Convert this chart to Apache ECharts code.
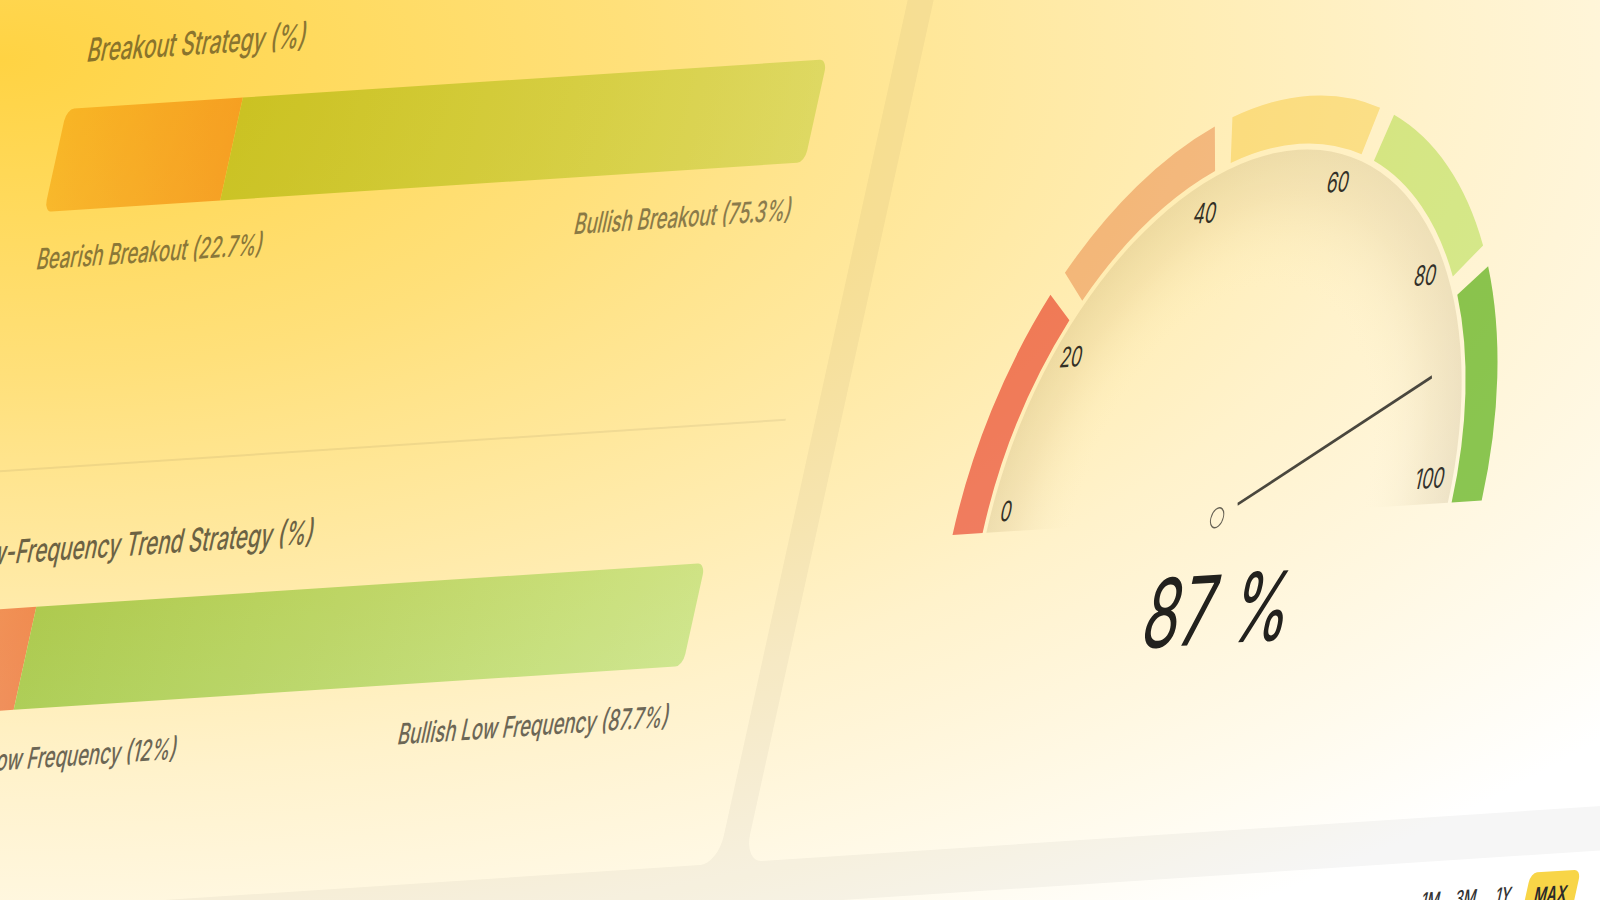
<!DOCTYPE html>
<html>
<head>
<meta charset="utf-8">
<title>Strategy Sentiment</title>
<script src="https://cdn.jsdelivr.net/npm/echarts@6/dist/echarts.min.js"></script>
<style>
  html, body { margin:0; padding:0; width:1600px; height:900px; overflow:hidden; background:#ffffff; }
  #stage {
    position:absolute; left:0; top:0; width:3000px; height:1080px;
    background:#F6F6F6;
    transform-origin:0 0;
    transform:matrix(0.627,-0.041,-0.22,1,-26.8,-24.8);
    font-family:Inter, "Noto Sans", sans-serif;
  }
  .card { position:absolute; background:#ffffff; border-radius:28px; }
  #divider { position:absolute; left:-100px; top:504px; width:1573px; height:2px; background:#F0F0F0; }
  #chart { position:absolute; left:0; top:0; width:3000px; height:1080px; }
  .btn { position:absolute; top:1022px; font-size:22px; font-weight:500; color:#333; }
  .chip { position:absolute; left:2840px; top:1014px; width:80px; height:46px; border-radius:10px;
          background:#F8D547; color:#2a2a2a; font-size:22px; font-weight:600; text-align:center; line-height:46px; }
  #overlay {
    position:fixed; left:0; top:0; width:1600px; height:900px; pointer-events:none; z-index:10;
    mix-blend-mode:multiply;
    background:radial-gradient(ellipse 2100px 1050px at 0px 60px,
      #FFD343 0%, #FFDA5E 15%, #FFE07A 30%, #FFE48C 38%, #FFECB0 55%,
      #FFF2CB 68%, #FFF5D8 76%, #FFFBEE 90%, #FFFFFF 100%);
  }
</style>
</head>
<body>
<div id="stage">
  <div class="card" style="left:-100px; top:-60px; width:1621px; height:1011px;"></div>
  <div class="card" style="left:1563px; top:-60px; width:1500px; height:1011px;"></div>
  <div class="card" style="left:1563px; top:996px; width:1500px; height:200px;"></div>
  <div id="divider"></div>
  <div id="chart"></div>
  <div id="buttons"></div>
</div>
<div id="overlay"></div>
<script>
// ---------------- data ----------------
const breakoutTitle = 'Breakout Strategy (%)';
const breakoutNames = ['Bearish Breakout', 'Bullish Breakout'];
const breakoutValues = [22.7, 75.3];

const lowFreqTitle = 'Low-Frequency Trend Strategy (%)';
const lowFreqNames = ['Bearish Low Frequency', 'Bullish Low Frequency'];
const lowFreqValues = [12, 87.7];

const gaugeValue = 87;
const gaugeMin = 0;
const gaugeMax = 100;
const gaugeSplits = 5;
const gaugeBandEnds = [20, 40, 60, 80, 100];

const rangeButtons = ['1M', '3M', '1Y', 'MAX'];

// ---------------- styles ----------------
const FONT = 'Inter';
const textColors = ['#8a8a8a', '#6c6c6c'];   // upper block, lower block
const bandColors = ['#F0847C', '#F3C6AF', '#FBECAD', '#D5F3A6', '#8ACC5C'];
const bandGap = 1.0; // value units each side of a split

function hGrad(c0, c1) {
  return { type:'linear', x:0, y:0, x2:1, y2:0, colorStops:[{offset:0,color:c0},{offset:1,color:c1}] };
}
const barColors = [
  [hGrad('#F8D878', '#F6BC60'), hGrad('#CBE462', '#DEF2B0')],
  [hGrad('#F2A58A', '#F09878'), hGrad('#AEDC76', '#CFF4B8')]
];

// ---------------- layout (flat plane) ----------------
const barGrids = [
  { left:199, top:142, width:1213, height:103 },
  { left:181, top:645, width:1213, height:103 }
];
const labelDrop = [165, 168];
const gaugeCenter = [2206, 633];
const gaugeRadius = 422;
const faceRadius = 368;
const tickLabelArc = [187.5, 4.2];

// ---------------- option ----------------
function bandStops() {
  const stops = [];
  const clear = 'rgba(0,0,0,0)';
  gaugeBandEnds.forEach((end, i) => {
    const isLast = i === gaugeBandEnds.length - 1;
    const segEnd = isLast ? end : end - bandGap;
    stops.push([(segEnd - gaugeMin) / (gaugeMax - gaugeMin), bandColors[i]]);
    if (!isLast) stops.push([(end + bandGap - gaugeMin) / (gaugeMax - gaugeMin), clear]);
  });
  return stops;
}

function barSeries(names, values, gridIdx) {
  return names.map((name, i) => {
    const first = i === 0;
    return {
      type:'bar', name: name, stack:'s' + gridIdx,
      xAxisIndex:gridIdx, yAxisIndex:gridIdx,
      barWidth:'100%',
      data:[values[i]],
      itemStyle:{ color: barColors[gridIdx][i], borderRadius: first ? [12,0,0,12] : [0,12,12,0] },
      label:{
        show:true,
        position: first ? [6, labelDrop[gridIdx]] : ['100%', labelDrop[gridIdx]],
        offset: first ? [0,0] : [-3,0],
        align: first ? 'left' : 'right',
        verticalAlign:'bottom',
        formatter:'{a} ({c}%)',
        fontFamily:FONT, fontSize:29.5, fontWeight:500, color:textColors[gridIdx]
      },
      silent:true
    };
  });
}

const sum = arr => arr.reduce((a, b) => a + b, 0);
const tickText = { fontFamily:FONT, fontSize:28, color:'#333' };

const option = {
  animation:false,
  title:[
    { text:breakoutTitle, left:213, top:67, padding:0,
      textStyle:{ fontFamily:FONT, fontSize:33, fontWeight:500, color:textColors[0] } },
    { text:lowFreqTitle, left:195, top:571, padding:0,
      textStyle:{ fontFamily:FONT, fontSize:33, fontWeight:500, color:textColors[1] } }
  ],
  grid: barGrids.map(g => Object.assign({ containLabel:false }, g)),
  xAxis:[
    { type:'value', gridIndex:0, min:0, max:sum(breakoutValues), show:false },
    { type:'value', gridIndex:1, min:0, max:sum(lowFreqValues), show:false }
  ],
  yAxis:[
    { type:'category', gridIndex:0, data:['breakout'], show:false },
    { type:'category', gridIndex:1, data:['lowfreq'], show:false }
  ],
  series:[
    ...barSeries(breakoutNames, breakoutValues, 0),
    ...barSeries(lowFreqNames, lowFreqValues, 1),
    {
      type:'pie', z:1, center:gaugeCenter, radius:[0, faceRadius], startAngle:180, endAngle:0,
      silent:true, label:{show:false}, labelLine:{show:false},
      emphasis:{disabled:true},
      data:[{ value:1, itemStyle:{ color:{ type:'radial', x:gaugeCenter[0], y:gaugeCenter[1], r:faceRadius, global:true,
        colorStops:[
          {offset:0, color:'rgba(255,255,255,0)'},
          {offset:0.62, color:'rgba(255,255,255,0)'},
          {offset:0.87, color:'#F6F4EE'},
          {offset:1, color:'#EEEBE3'}
        ] } } }]
    },
    {
      // coloured band, pointer and value
      type:'gauge', z:3, center:gaugeCenter, radius:gaugeRadius,
      startAngle:180, endAngle:0, min:gaugeMin, max:gaugeMax, splitNumber:gaugeSplits,
      axisLine:{ lineStyle:{ width:48, color:bandStops() } },
      splitLine:{ show:false, length:0, distance:0 },
      axisTick:{ show:false },
      axisLabel:{ show:false },
      pointer:{ show:true, icon:'rect', length:293, width:3.5, offsetCenter:[0,-31], itemStyle:{ color:'#4a4a4a' } },
      anchor:{ show:true, showAbove:true, size:20, itemStyle:{ color:'rgba(0,0,0,0)', borderColor:'#666', borderWidth:1.5 } },
      title:{ show:false },
      detail:{ show:true, offsetCenter:[36, 93], formatter:'{value} %', fontFamily:FONT, fontSize:96, fontWeight:400, color:'#222' },
      data:[{ value:gaugeValue }]
    },
    {
      // tick labels of the gauge scale
      type:'gauge', z:3, center:gaugeCenter, radius:gaugeRadius,
      startAngle:tickLabelArc[0], endAngle:tickLabelArc[1], min:gaugeMin, max:gaugeMax, splitNumber:gaugeSplits,
      axisLine:{ show:false, lineStyle:{ width:48 } },
      splitLine:{ show:false, length:0, distance:0 },
      axisTick:{ show:false },
      axisLabel:Object.assign({
        show:true, distance:67,
        formatter: v => v === gaugeMin ? '{lift|' + v + '}' : String(v),
        rich:{ lift: Object.assign({ padding:[0,0,134,0] }, tickText) }
      }, tickText),
      pointer:{ show:false }, anchor:{ show:false }, progress:{ show:false },
      title:{ show:false }, detail:{ show:false },
      data:[]
    }
  ]
};

const chart = echarts.init(document.getElementById('chart'), null, { renderer:'svg', width:3000, height:1080 });
chart.setOption(option);

// range buttons row (bottom card)
const btnCenters = [2688, 2744, 2804];
const btnWrap = document.getElementById('buttons');
rangeButtons.forEach((t, i) => {
  const el = document.createElement('div');
  if (t === 'MAX') {
    el.className = 'chip';
  } else {
    el.className = 'btn';
    el.style.left = (btnCenters[i] - 20) + 'px';
    el.style.width = '40px';
    el.style.textAlign = 'center';
  }
  el.textContent = t;
  btnWrap.appendChild(el);
});
</script>
</body>
</html>
